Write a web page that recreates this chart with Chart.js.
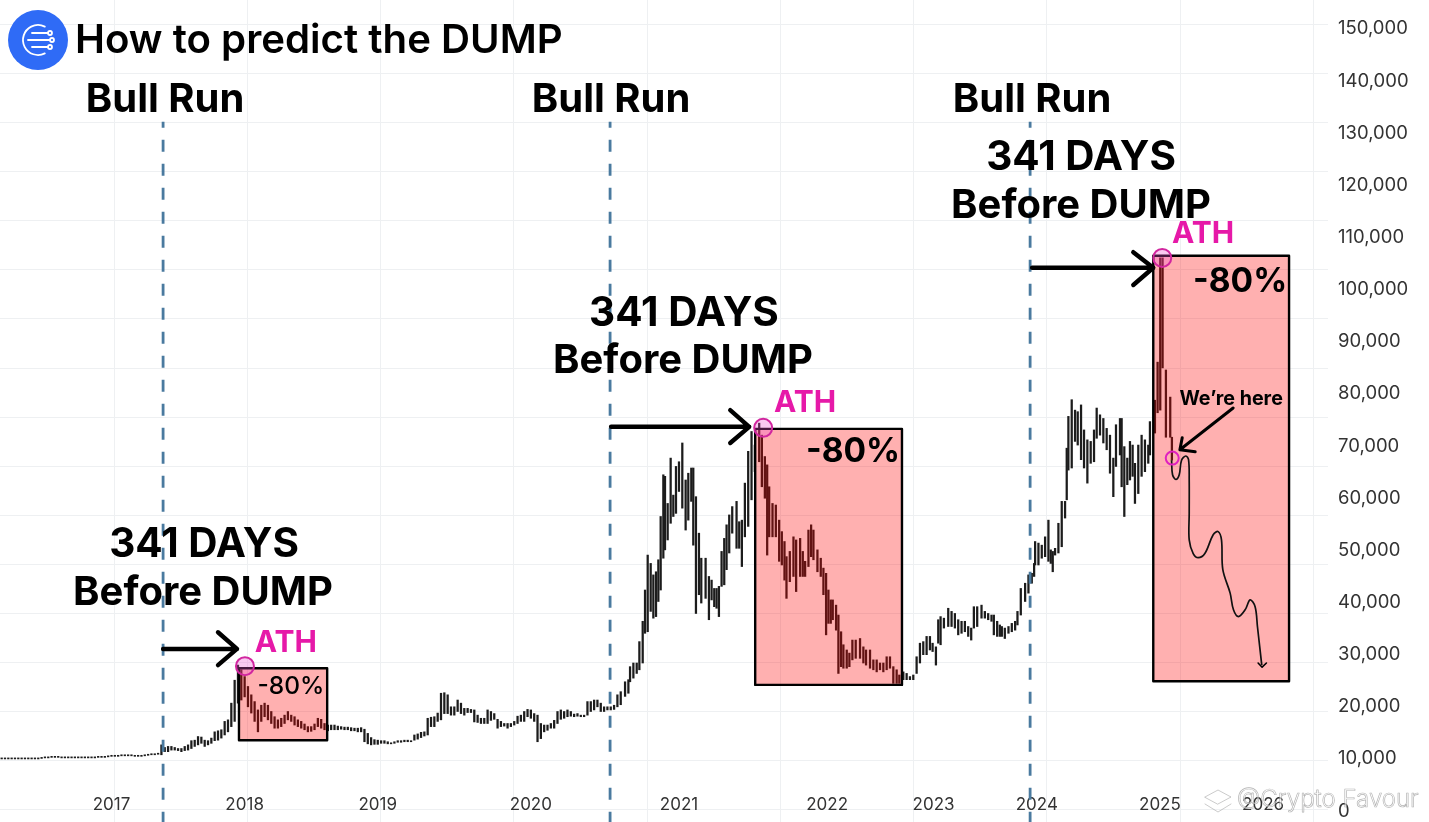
<!DOCTYPE html>
<html><head><meta charset="utf-8">
<style>html,body{margin:0;padding:0;background:#fff}canvas{display:block}</style>
<script src="https://cdn.jsdelivr.net/npm/chart.js@4"></script>
</head><body><canvas id="c" width="1429" height="822"></canvas>
<script>
const yearTicks=[2017,2018,2019,2020,2021,2022,2023,2024,2025,2026];
const yearWeeks=[33,73,113,159,203.5,248,280,311,348,379];
const priceTicks=[0,10000,20000,30000,40000,50000,60000,70000,80000,90000,100000,110000,120000,130000,140000,150000];
const weeks=[0,1,2,3,4,5,6,7,8,9,10,11,12,13,14,15,16,17,18,19,
20,21,22,23,24,25,26,27,28,29,30,31,32,33,34,35,36,37,38,39,
40,41,42,43,44,45,46,47,48,49,50,51,52,53,54,55,56,57,58,59,
60,61,62,63,64,65,66,67,68,69,70,71,72,73,74,75,76,77,78,79,
80,81,82,83,84,85,86,87,88,89,90,91,92,93,94,95,96,97,98,99,
100,101,102,103,104,105,106,107,108,109,110,111,112,113,114,115,116,117,118,119,
120,121,122,123,124,125,126,127,128,129,130,131,132,133,134,135,136,137,138,139,
140,141,142,143,144,145,146,147,148,149,150,151,152,153,154,155,156,157,158,159,
160,161,162,163,164,165,166,167,168,169,170,171,172,173,174,175,176,177,178,179,
180,181,182,183,184,185,186,
187.3,188.3,188.8,189.8,190.8,191.6,192.6,193.3,194.1,195.0,
195.8,196.6,197.3,198.0,198.8,199.3,200.1,201.0,201.8,202.6,
203.5,204.5,205.5,206.3,207.2,207.8,208.6,209.5,210.2,211.5,
212.5,213.3,214.1,214.8,215.5,216.3,217.1,217.8,218.6,219.5,
220.8,221.6,222.4,223.3,224.3,225.3,226.3,227.6,228.4,229.3,
230.0,230.6,231.6,232.6,233.6,234.4,235.2,235.8,236.8,237.9,
238.7,239.9,240.7,241.4,242.4,243.2,243.9,245.1,246.1,246.9,
247.7,248.4,249.1,249.7,250.7,251.4,252.2,252.9,253.9,254.7,
255.6,256.6,257.9,258.9,259.7,260.9,261.9,262.9,263.9,264.9,
265.9,266.9,267.9,268.9,269.7,270.9,271.9,272.9,273.9,274.9,
275.9,276.9,277.9,278.9,279.7,280.7,281.4,
282.1,283.1,284.4,285.4,286.4,287.4,288.4,289.4,290.4,291.3,
292.1,293.1,294.4,295.4,296.4,297.4,298.1,299.1,299.9,300.5,
301.4,302.5,303.5,304.5,305.2,306.2,307.5,308.5,309.5,310.2,
310.5,311.5,312.5,313.5,314.5,315.2,315.8,316.5,317.5,318.5,
319.5,320.0,320.5,321.5,322.5,323.3,324.3,325.2,326.2,327.2,
328.2,329.0,330.0,331.0,332.0,333.0,334.0,334.8,336.0,336.5,
337.3,338.2,339.0,339.8,340.5,341.5,342.5,343.5,344.5,345.0,
346.5,347.3,348.1,348.8,349.8,351.1,351.6];
const lows=[9600,9600,9600,9600,9600,9600,9600,9600,9600,9600,
9600,9600,9700,9800,9800,9900,9900,9900,9800,9800,
9800,9800,9800,9800,9800,9800,9800,9800,9800,9900,
9900,9900,10000,10100,10100,10100,10200,10200,10200,10200,
10100,10100,10100,10200,10300,10400,10400,10500,
10400,11000,11000,11300,11300,11200,11000,11200,11300,11600,
12000,12300,12600,12000,12300,12600,13100,13200,13600,14200,
14800,15800,16800,20300,20900,21500,19600,18400,16800,14800,
16800,17700,17100,16400,15500,15500,15800,16400,17100,16800,
16100,15800,15500,15200,14800,14900,15200,15800,15500,15200,
15000,15200,
15200,15200,15300,15200,15200,15000,15000,14800,14800,12900,
12500,12300,12400,12400,12600,12600,12500,12500,12600,12800,
12800,12900,12900,12900,13200,13400,13700,14000,14200,15800,
15800,16800,
17100,18300,18300,18000,18000,18700,18300,18000,18500,18500,
16700,16600,16400,16400,16400,17000,17200,15500,15800,15900,
15500,15800,16100,16400,16800,16800,17700,17400,16800,12900,
13500,14800,15100,15500,15500,16400,17200,17400,17700,17800,
17700,17800,17700,17700,18000,18700,19000,19600,18700,18700,
19000,19000,19100,19600,20000,
21600,22200,24400,25100,26000,26700,28000,33700,34000,37900,
36600,36900,39800,42000,48100,49700,51600,54800,56100,56700,
60900,57700,53500,55400,59000,50600,37500,41100,39500,40400,
36300,40100,38800,38500,36900,42700,43000,45900,49100,52900,
50000,50000,46500,52200,54200,59300,64700,66600,61800,59600,
48700,52200,52200,52200,47500,46800,43900,40400,43600,44600,
41700,44600,44600,44600,46500,48400,47800,45500,44600,41100,
33400,35600,35600,36300,34300,26000,27300,27000,27000,27300,
28600,28900,28900,28000,27600,27000,26700,26300,26700,26300,
26700,27000,24100,24100,24100,24800,24800,24800,24800,26000,
28000,29600,29600,30500,30200,27600,31800,
31500,34700,35000,35000,34700,33400,33700,34000,33100,32400,
34700,35000,36600,36600,36300,36000,33400,33100,33100,33100,
32700,33700,34000,34300,35300,37200,39800,41400,43300,44600,
46800,46800,48100,48400,47500,47100,45500,48700,49100,50300,
55800,59300,65000,65400,70500,69800,67000,65400,62500,66300,
66600,71100,71700,70200,68900,64400,59900,65700,67900,61800,
56100,62200,63100,63800,58600,60500,63800,64700,66300,67900,
72100,76000,76500,84600,71300,71300,66900];
const highs=[9800,9800,9800,9800,9800,9800,9800,9800,9800,9800,
9800,9800,9900,10000,10000,10100,10100,10100,10000,10000,
10000,10000,10000,10000,10000,10000,10000,10000,10000,10100,
10100,10100,10200,10300,10300,10300,10400,10400,10400,10400,
10300,10300,10300,10400,10500,10600,10600,10700,
12300,11800,12000,12000,11800,11600,11600,12000,12300,13100,
13200,13900,13800,13200,13100,13600,14800,15000,15200,16800,
17100,20300,24700,27600,26700,25400,23500,21900,20600,19000,
19900,20300,19900,18700,17700,17100,17400,18000,18700,18000,
17700,17100,16800,16300,15800,15800,16300,17400,17200,16400,
16100,16100,
16100,15900,15800,15700,15700,15600,15500,15500,15600,15300,
14500,13700,13300,13200,13100,13100,12900,12700,12900,13100,
13100,13200,13200,13100,14200,14400,14700,14800,17400,17600,
17700,18400,
22200,22300,21900,19600,19600,20900,20300,19300,19300,19100,
19000,18000,17400,17400,19000,18700,18300,17200,16800,16400,
16400,16400,16800,17800,18000,18700,19100,19000,18300,18000,
16400,16100,16100,16400,17000,18700,19000,18700,19000,18700,
18200,18300,18000,18000,20600,20600,20900,20900,20300,19600,
19600,19600,19900,21900,22500,
24400,24800,27300,28000,28000,32100,36000,42000,48700,47100,
44900,45500,47800,56100,64100,63800,58600,67300,60200,65700,
66600,70200,63100,64400,65400,65400,59900,52900,48100,48100,
44600,43900,42300,42300,42700,49400,51900,54500,56400,58000,
59000,55100,55400,62500,68600,72400,69800,74000,71700,67600,
66000,61800,58600,58300,55400,53200,51300,48400,49400,52200,
51600,51900,49400,47500,53500,54500,53500,49700,48100,46200,
45200,42000,40100,40100,39100,37200,34000,31500,30500,29900,
32400,32400,32700,31100,30500,30500,28600,28600,28000,28000,
29200,29200,27300,26700,25700,26300,26000,25400,25700,29200,
31800,32100,33100,33100,31800,31100,36300,
36900,36600,38500,37900,37500,36300,36000,36000,35000,34700,
38800,38800,39100,37900,37500,37200,37200,36000,35300,35000,
34700,35000,35600,36000,37900,42300,43300,44900,45200,47100,
51300,51000,50600,52200,55400,49700,49400,50000,54800,59000,
59000,69200,75300,78500,76500,76200,77500,72700,70800,70500,
72700,76900,75600,74900,73000,71700,67300,73700,74900,74900,
69500,67300,70500,69800,66300,69800,71700,70800,69800,74300,
78400,85700,105700,105700,84200,79000,71300];
const athWeeks=[73.1,228.8,348.7];
const athPrices=[27400,73100,105700];
const hereWeeks=[351.7];
const herePrices=[67300];
const forecastWeeks=[351.5,351.8,352.8,353.8,354.5,355.8,356.6,356.8,356.8,356.8,358.0,359.5,361.5,364.0,365.5,366.5,366.9,369.1,370.1,371.6,373.6,375.1,376.6,377.3,378.6];
const forecastPrices=[66900,64100,63200,64100,66900,67700,67000,63100,56700,51600,49000,48200,49000,52600,53200,51600,45900,41400,38200,36900,38200,40100,38800,35000,27600];
const dropBoxes=[[71.3,97.8,13200,27000],[226.4,270.5,23800,72900],[346,386.8,24500,106100]];
const bullRunWeeks=[48.5,182.8,309];
const lagArrows=[[48.5,70.7,30700,65,33900,27600],[183.1,224.6,73300,218.9,76500,70200],[309.6,346,103800,340,106800,100500]];
const notes=[
 ['Bull Run',49.1,136000,'700 40px Inter','#000'],['Bull Run',183.1,136000,'700 40px Inter','#000'],['Bull Run',309.6,136000,'700 40px Inter','#000'],
 ['341 DAYS',60.8,50600,'700 40.5px Inter','#000'],['Before DUMP',60.5,41400,'700 40px Inter','#000'],
 ['341 DAYS',205,94900,'700 40.5px Inter','#000'],['Before DUMP',204.7,85900,'700 40px Inter','#000'],
 ['341 DAYS',324.3,124800,'700 40.5px Inter','#000'],['Before DUMP',324.3,115600,'700 40px Inter','#000'],
 ['ATH',85.4,31800,'700 30px Inter','#e619a8'],['ATH',241.4,77900,'700 30px Inter','#e619a8'],['ATH',361,110300,'700 30px Inter','#e619a8'],
 ['-80%',86.9,23400,'500 24.5px Inter','#000'],['-80%',255.8,68500,'700 33.5px Inter','#000'],['-80%',372.1,101100,'700 33.5px Inter','#000'],
 ['We\u2019re here',369.4,78700,'700 19.7px Inter','#000']
];
const fmt=v=>v.toLocaleString('en-US');
const noPad=s=>{s.paddingLeft=0;s.paddingRight=0;s.paddingTop=0;s.paddingBottom=0;};
const overlay={
 id:'overlay',
 afterDatasetDraw(chart,args){
  if(args.index!==0)return;
  const {ctx,scales:{x,y}}=chart;
  ctx.save();
  dropBoxes.forEach(b=>{
   const l=x.getPixelForValue(b[0]),r=x.getPixelForValue(b[1]),t=y.getPixelForValue(b[3]),o=y.getPixelForValue(b[2]);
   ctx.fillStyle='rgba(255,0,0,0.31)';ctx.fillRect(l,t,r-l,o-t);
   ctx.strokeStyle='#000';ctx.lineWidth=2.4;ctx.lineJoin='round';ctx.strokeRect(l,t,r-l,o-t);
  });
  ctx.restore();
 },
 afterDatasetsDraw(chart){
  const {ctx,scales:{x,y}}=chart;
  const X=v=>x.getPixelForValue(v),Y=v=>y.getPixelForValue(v);
  ctx.save();
  ctx.strokeStyle='#4a7a9f';ctx.lineWidth=2.8;ctx.setLineDash([12,12]);ctx.lineDashOffset=6;
  bullRunWeeks.forEach(w=>{ctx.beginPath();ctx.moveTo(X(w),Y(131800));ctx.lineTo(X(w),chart.height);ctx.stroke();});
  ctx.setLineDash([]);
  ctx.strokeStyle='#000';ctx.lineCap='round';ctx.lineJoin='round';ctx.lineWidth=4.4;
  lagArrows.forEach(a=>{
   ctx.beginPath();ctx.moveTo(X(a[0]),Y(a[2]));ctx.lineTo(X(a[1]),Y(a[2]));
   ctx.moveTo(X(a[3]),Y(a[4]));ctx.lineTo(X(a[1]),Y(a[2]));ctx.lineTo(X(a[3]),Y(a[5]));ctx.stroke();
  });
  ctx.lineWidth=3;ctx.beginPath();ctx.moveTo(X(370),Y(76900));ctx.lineTo(X(354),Y(68900));
  ctx.moveTo(X(354.7),Y(71200));ctx.lineTo(X(354),Y(68900));ctx.lineTo(X(358.6),Y(68500));ctx.stroke();
  ctx.lineWidth=1.6;ctx.beginPath();ctx.moveTo(X(377.5),Y(28000));ctx.lineTo(X(378.7),Y(27200));ctx.lineTo(X(380),Y(28000));ctx.stroke();
  ctx.textAlign='center';ctx.textBaseline='middle';
  notes.forEach(n=>{ctx.font=n[3];ctx.fillStyle=n[4];ctx.fillText(n[0],X(n[1]),Y(n[2]));});
  ctx.fillStyle='#2f6bf6';ctx.beginPath();ctx.arc(38,40,30,0,Math.PI*2);ctx.fill();
  ctx.strokeStyle='#fff';ctx.lineWidth=1.8;
  ctx.beginPath();ctx.arc(38,40,15,Math.PI*0.35,Math.PI*1.65);ctx.stroke();
  [[32,33,48,33],[28,40,50,40],[32,47,48,47]].forEach(l=>{ctx.beginPath();ctx.moveTo(l[0],l[1]);ctx.lineTo(l[2],l[3]);ctx.stroke();ctx.beginPath();ctx.arc(l[2]+2,l[3],2,0,Math.PI*2);ctx.stroke();});
  ctx.textAlign='left';ctx.font='600 40.2px Inter';ctx.fillStyle='#000';ctx.fillText('How to predict the DUMP',75,41);
  ctx.font='300 24px Inter';ctx.strokeStyle='rgba(130,130,130,0.6)';ctx.lineWidth=0.7;ctx.fillStyle='rgba(255,255,255,0.6)';
  ctx.fillText('@Crypto Favour',1237,800);ctx.strokeText('@Crypto Favour',1237,800);
  ctx.beginPath();ctx.moveTo(1205,797);ctx.lineTo(1218,790);ctx.lineTo(1231,797);ctx.lineTo(1218,804);ctx.closePath();
  ctx.moveTo(1205,804);ctx.lineTo(1218,812);ctx.lineTo(1231,804);ctx.stroke();
  ctx.restore();
 }
};
new Chart(document.getElementById('c'),{
 type:'bar',
 data:{datasets:[
  {type:'bar',label:'Price',order:3,xAxisID:'x',yAxisID:'y',data:weeks.map((w,i)=>({x:w,y:[lows[i],highs[i]]})),backgroundColor:'#1c1c1c',borderWidth:0,barThickness:1.6,grouped:false},
  {type:'line',label:'Forecast',order:2,xAxisID:'x',yAxisID:'y',data:forecastWeeks.map((w,i)=>({x:w,y:forecastPrices[i]})),borderColor:'#111',borderWidth:1.7,pointRadius:0,tension:0.35,fill:false},
  {type:'scatter',label:'ATH',order:1,xAxisID:'x',yAxisID:'y',data:athWeeks.map((w,i)=>({x:w,y:athPrices[i]})),pointRadius:9,pointBackgroundColor:'rgba(240,80,210,0.3)',pointBorderColor:'#d1269f',pointBorderWidth:2},
  {type:'scatter',label:'Now',order:1,xAxisID:'x',yAxisID:'y',data:hereWeeks.map((w,i)=>({x:w,y:herePrices[i]})),pointRadius:6.5,pointBackgroundColor:'rgba(0,0,0,0)',pointBorderColor:'#e020c0',pointBorderWidth:2}
 ]},
 options:{
  responsive:false,animation:false,devicePixelRatio:1,
  layout:{padding:0,autoPadding:false},
  plugins:{legend:{display:false},tooltip:{enabled:false}},
  scales:{
   x:{type:'linear',position:'bottom',min:-0.5,max:398.5,offset:false,grid:{display:false,offset:false,drawTicks:false},border:{display:false},
    afterBuildTicks:s=>{s.ticks=yearWeeks.map(v=>({value:v}));},
    afterFit:s=>{s.height=0;noPad(s);},
    ticks:{autoSkip:false,maxRotation:0,mirror:true,padding:7,color:'#333',font:{family:'Inter',size:17},callback:v=>{const i=yearWeeks.indexOf(v);return i<0?'':String(yearTicks[i]);}}},
   xGrid:{type:'linear',position:'top',min:-0.856,max:9.11,offset:false,grid:{color:'#eef0f2',lineWidth:1,drawTicks:false,offset:false},border:{display:false},
    afterBuildTicks:s=>{s.ticks=[0,1,2,3,4,5,6,7,8,9].map(v=>({value:v}));},afterFit:noPad,ticks:{display:false}},
   y:{type:'linear',position:'right',min:-2493,max:155159,grid:{display:false,drawTicks:false},border:{display:false},
    afterBuildTicks:s=>{s.ticks=priceTicks.map(v=>({value:v}));},
    afterFit:s=>{s.width=101;noPad(s);s.getPixelForTick=function(i){return this.getPixelForValue(this.ticks[i].value)+2;};},
    ticks:{padding:10,crossAlign:'near',color:'#333',font:{family:'Inter',size:18.5},callback:v=>fmt(v)}},
   yGrid:{type:'linear',position:'left',min:-0.265,max:16.51,grid:{color:'#eef0f2',lineWidth:1,drawTicks:false},border:{display:false},
    afterBuildTicks:s=>{s.ticks=[0,1,2,3,4,5,6,7,8,9,10,11,12,13,14,15,16].map(v=>({value:v}));},afterFit:noPad,ticks:{display:false}}
  }
 },
 plugins:[overlay]
});
</script></body></html>
